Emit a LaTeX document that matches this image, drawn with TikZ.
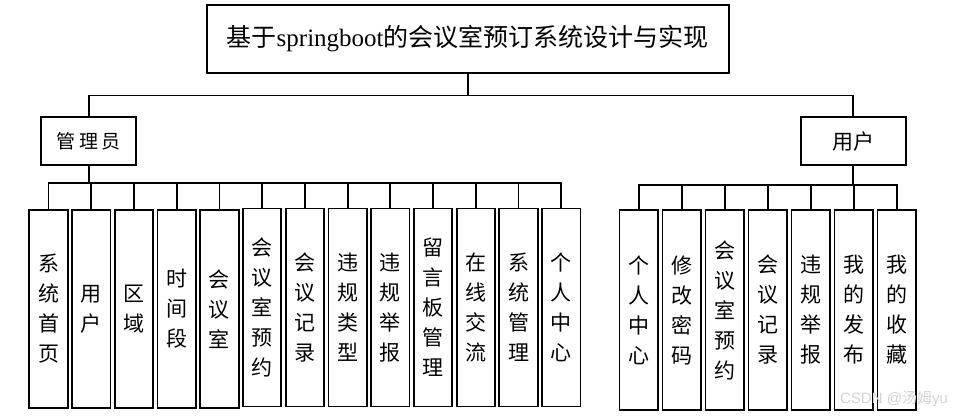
\documentclass[tikz,border=0pt]{standalone}
\usepackage{fontspec}
\setmainfont{Noto Sans CJK SC}
\newfontfamily\latinserif{Liberation Serif}
\newfontfamily\wmfont{Liberation Sans}
\begin{document}
\begin{tikzpicture}[x=1pt,y=-1pt,
  box/.style={draw, line width=1.8pt, inner sep=0pt, align=center},
  vbox/.style={box, minimum width=38.4pt, font=\fontsize{21}{30}\selectfont},
  conn/.style={line width=1.8pt}]
\useasboundingbox (0,0) rectangle (959,416);
% top level
\node[box, minimum width=521.8pt, minimum height=67.7pt, font=\fontsize{25}{28}\selectfont] (title) at (467.7,38.9)
  {基于{\latinserif springboot}的会议室预订系统设计与实现};
\node[box, minimum width=95pt, minimum height=47.7pt, font=\fontsize{19}{22}\selectfont] (adm) at (88.8,141.2)
  {管\hspace{3.5pt}理\hspace{3.5pt}员};
\node[box, minimum width=105pt, minimum height=47.7pt, font=\fontsize{21}{22}\selectfont] (usr) at (853.2,141.2)
  {用户};
\coordinate (top) at (467.7,95.5);
\coordinate (busA) at (88.8,183.3);
\coordinate (busU) at (853.2,185);
\draw[conn] (title.south) -- (title.south |- top) -| (adm.north);
\draw[conn] (title.south |- top) -| (usr.north);
% admin children
\foreach \i/\t in {1/系\\统\\首\\页, 2/用\\户, 3/区\\域, 4/时\\间\\段, 5/会\\议\\室,
  6/会\\议\\室\\预\\约, 7/会\\议\\记\\录, 8/违\\规\\类\\型, 9/违\\规\\举\\报,
  10/留\\言\\板\\管\\理, 11/在\\线\\交\\流, 12/系\\统\\管\\理, 13/个\\人\\中\\心}{
  \pgfmathsetmacro{\cx}{48.5+42.73*(\i-1)}
  \pgfmathsetmacro{\cy}{\i<6 ? 309 : 307.5}
  \node[vbox, minimum height=198pt] (a\i) at (\cx,\cy) {\t};
  \draw[conn] (adm.south) -- (adm.south |- busA) -| (a\i.north);
}
% user children
\foreach \i/\t in {1/个\\人\\中\\心, 2/修\\改\\密\\码, 3/会\\议\\室\\预\\约, 4/会\\议\\记\\录,
  5/违\\规\\举\\报, 6/我\\的\\发\\布, 7/我\\的\\收\\藏}{
  \pgfmathsetmacro{\cx}{638.7+43*(\i-1)}
  \node[vbox, minimum height=200pt] (u\i) at (\cx,310) {\t};
  \draw[conn] (usr.south) -- (usr.south |- busU) -| (u\i.north);
}
% watermark
\node[text=gray!35, font=\fontsize{15}{15}\selectfont, inner sep=0pt] (wm) at (894,399)
  {{\wmfont CSDN @}汤姆{\wmfont yu}};
\end{tikzpicture}
\end{document}
